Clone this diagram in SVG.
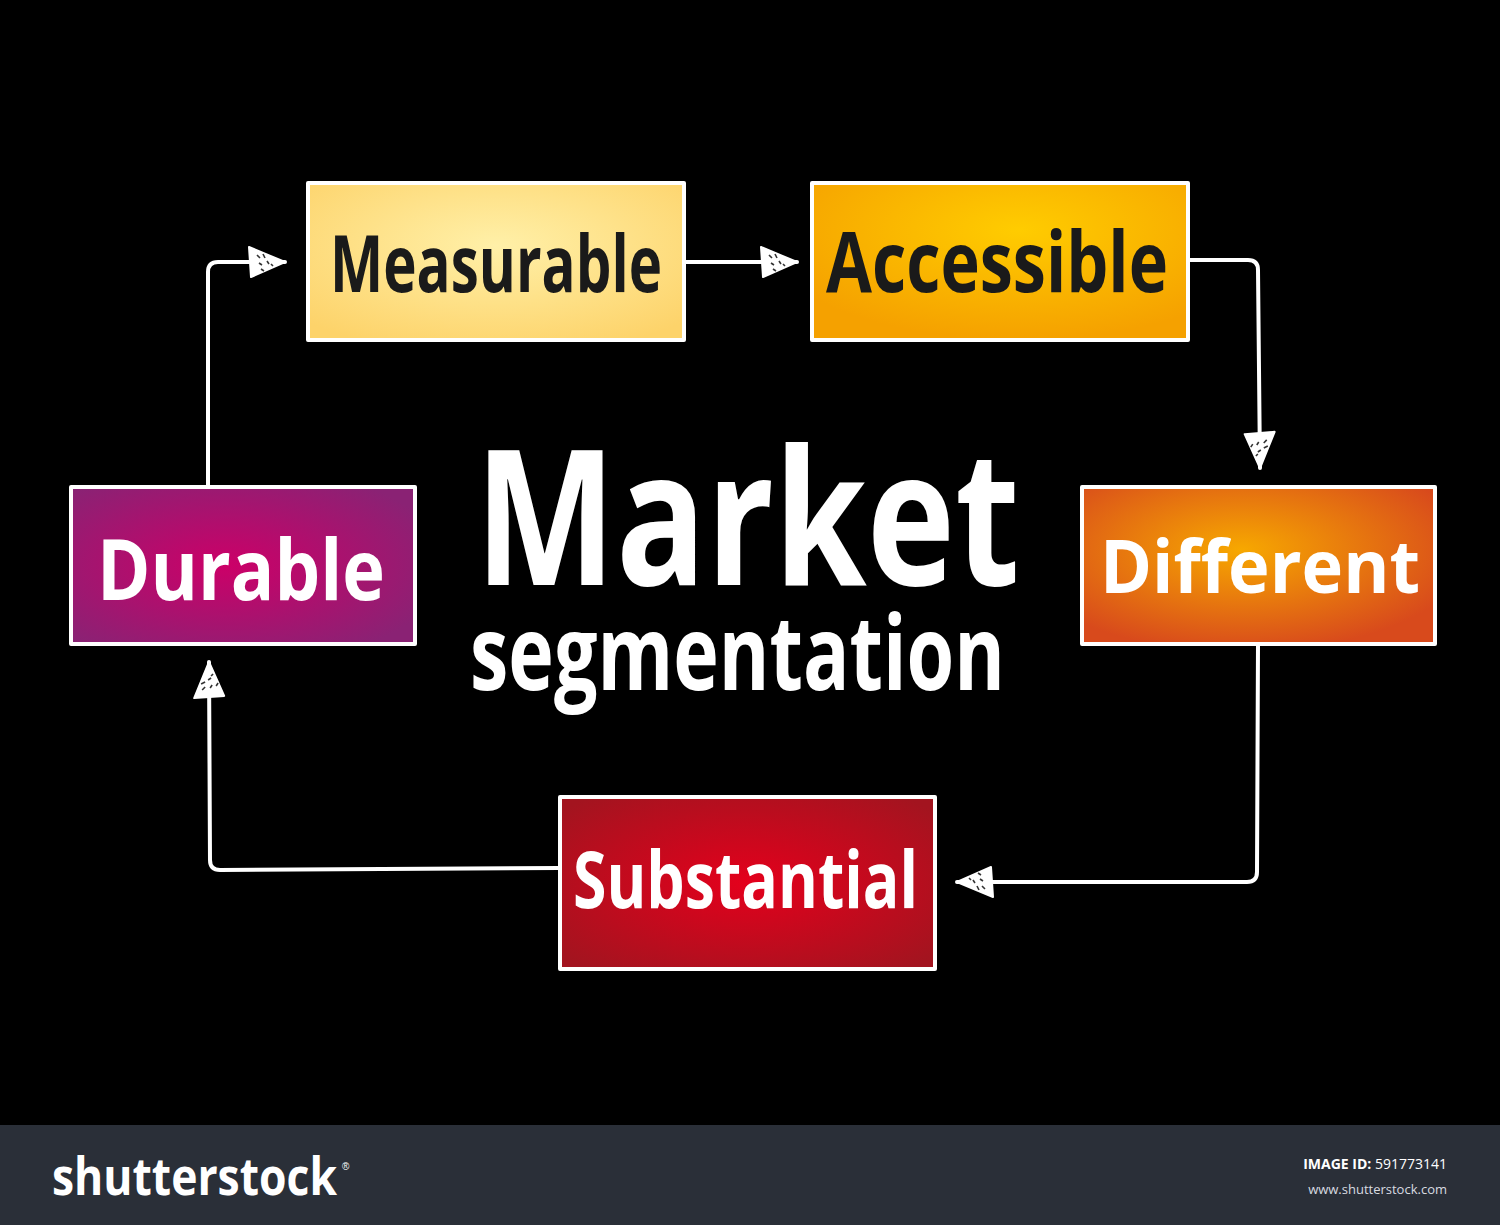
<svg xmlns="http://www.w3.org/2000/svg" width="1500" height="1225" viewBox="0 0 1500 1225">
<style>
.box{stroke:#ffffff;stroke-width:4;stroke-linejoin:round}
.lbl{font-family:"Open Sans","Liberation Sans",sans-serif;font-weight:700}
.dark{fill:#1a1a1a}
.light{fill:#ffffff}
.conn{fill:none;stroke:#ffffff;stroke-width:4;stroke-linecap:round;stroke-linejoin:round}
.title{font-family:"Open Sans","Liberation Sans",sans-serif;font-weight:700;fill:#ffffff}
</style>
<defs>
<radialGradient id="gMeas" cx="50%" cy="40%" r="70%">
<stop offset="0" stop-color="#fff0a8"/><stop offset="1" stop-color="#fdd36a"/>
</radialGradient>
<radialGradient id="gAcc" cx="55%" cy="30%" r="70%">
<stop offset="0" stop-color="#ffcc00"/><stop offset="1" stop-color="#f5a100"/>
</radialGradient>
<radialGradient id="gDiff" cx="45%" cy="40%" r="65%">
<stop offset="0" stop-color="#f7a800"/><stop offset="1" stop-color="#d84a1c"/>
</radialGradient>
<radialGradient id="gDur" cx="45%" cy="50%" r="65%">
<stop offset="0" stop-color="#cc0068"/><stop offset="1" stop-color="#8a2274"/>
</radialGradient>
<radialGradient id="gSub" cx="50%" cy="50%" r="65%">
<stop offset="0" stop-color="#e4001c"/><stop offset="1" stop-color="#a3141f"/>
</radialGradient>
<marker id="arr" viewBox="0 0 40 34" refX="38" refY="17" markerWidth="40" markerHeight="34" markerUnits="userSpaceOnUse" orient="auto">
<path d="M2,2 L38,17 L4,32 Z" fill="#ffffff" stroke="#ffffff" stroke-width="2" stroke-linejoin="round"/>
<path d="M10,10 l3,3 M16,9 l2,4 M12,18 l3,2 M20,16 l2,3 M14,24 l3,2 M24,19 l2,2" stroke="#333" stroke-width="1.6"/>
</marker>
</defs>
<rect x="0" y="0" width="1500" height="1225" fill="#000000"/>

<g id="connectors">
<path class="conn" d="M208,487 L208,272 Q208,262 218,262 L285,262" marker-end="url(#arr)"/>
<path class="conn" d="M684,262 L797,262" marker-end="url(#arr)"/>
<path class="conn" d="M1188,260 L1248,260 Q1258,260 1258,270 L1260,468" marker-end="url(#arr)"/>
<path class="conn" d="M1258,644 L1257,872 Q1257,882 1247,882 L957,882" marker-end="url(#arr)"/>
<path class="conn" d="M560,868 L220,870 Q210,870 210,860 L209,662" marker-end="url(#arr)"/>
</g>

<g id="node-measurable">
<rect class="box" x="308" y="183" width="376" height="157" fill="url(#gMeas)"/>
<text class="lbl dark" x="330" y="292" font-size="78" textLength="332" lengthAdjust="spacingAndGlyphs">Measurable</text>
</g>
<g id="node-accessible">
<rect class="box" x="812" y="183" width="376" height="157" fill="url(#gAcc)"/>
<text class="lbl dark" x="826" y="292" font-size="84" textLength="342" lengthAdjust="spacingAndGlyphs">Accessible</text>
</g>
<g id="node-different">
<rect class="box" x="1082" y="487" width="353" height="157" fill="url(#gDiff)"/>
<text class="lbl light" x="1100" y="593" font-size="74" textLength="320" lengthAdjust="spacingAndGlyphs">Different</text>
</g>
<g id="node-durable">
<rect class="box" x="71" y="487" width="344" height="157" fill="url(#gDur)"/>
<text class="lbl light" x="97" y="600" font-size="84" textLength="288" lengthAdjust="spacingAndGlyphs">Durable</text>
</g>
<g id="node-substantial">
<rect class="box" x="560" y="797" width="375" height="172" fill="url(#gSub)"/>
<text class="lbl light" x="573" y="908" font-size="78" textLength="345" lengthAdjust="spacingAndGlyphs">Substantial</text>
</g>

<g id="title">
<text class="title" transform="translate(475,585) scale(1,1.22)" x="0" y="0" font-size="155" textLength="545" lengthAdjust="spacingAndGlyphs">Market</text>
<text class="title" transform="translate(470,690) scale(1,1.3)" x="0" y="0" font-size="80" textLength="535" lengthAdjust="spacingAndGlyphs">segmentation</text>
</g>

<g id="footer">
<rect x="0" y="1125" width="1500" height="100" fill="#2a2f38"/>
<text transform="translate(52,1195) scale(1,1.15)" x="0" y="0" font-family="'Open Sans','Liberation Sans',sans-serif" font-weight="700" font-size="45" fill="#ffffff" textLength="285" lengthAdjust="spacingAndGlyphs">shutterstock</text>
<text x="342" y="1170" font-family="'Liberation Sans',sans-serif" font-size="10" fill="#ffffff">®</text>
<text x="1447" y="1169" text-anchor="end" font-family="'Open Sans','Liberation Sans',sans-serif" font-size="14" fill="#ffffff"><tspan font-weight="700">IMAGE ID:</tspan> 591773141</text>
<text x="1447" y="1194" text-anchor="end" font-family="'Open Sans','Liberation Sans',sans-serif" font-size="13" fill="#d8dbe0">www.shutterstock.com</text>
</g>
</svg>
